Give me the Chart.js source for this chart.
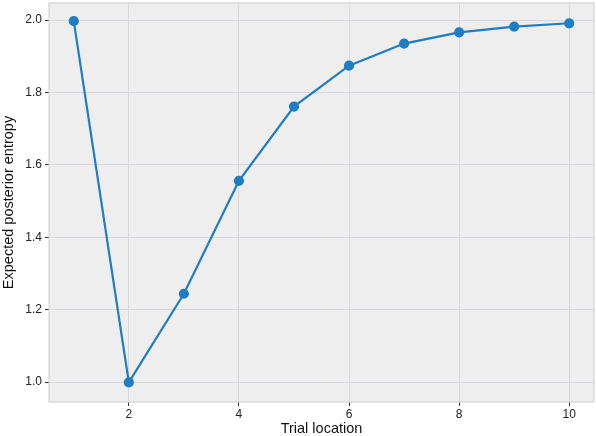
<!DOCTYPE html>
<html>
<head>
<meta charset="utf-8">
<script src="https://cdn.jsdelivr.net/npm/chart.js@4"></script>
<style>
html,body{margin:0;padding:0;background:#ffffff;}
#wrap{width:596px;height:436px;position:relative;}
</style>
</head>
<body>
<div id="wrap"><canvas id="c"></canvas></div>
<script>
const trialLocations = [1, 2, 3, 4, 5, 6, 7, 8, 9, 10];
const expectedEntropy = [1.997, 0.999, 1.244, 1.556, 1.761, 1.874, 1.935, 1.966, 1.982, 1.991];
const xTicks = [2, 4, 6, 8, 10];
const yTicks = [1.0, 1.2, 1.4, 1.6, 1.8, 2.0];

const bgPlugin = {
  id: 'bg',
  beforeDraw(chart) {
    const a = chart.chartArea, ctx = chart.ctx;
    ctx.save();
    ctx.fillStyle = '#eeeeee';
    ctx.fillRect(a.left, a.top, a.right - a.left, a.bottom - a.top);
    ctx.restore();
  },
  afterDraw(chart) {
    const a = chart.chartArea, ctx = chart.ctx;
    ctx.save();
    ctx.strokeStyle = '#d2d2d2';
    ctx.lineWidth = 1.2;
    ctx.strokeRect(a.left, a.top, a.right - a.left, a.bottom - a.top);
    ctx.restore();
  }
};

new Chart(document.getElementById('c'), {
  type: 'line',
  data: {
    datasets: [{
      data: trialLocations.map((x, i) => ({x: x, y: expectedEntropy[i]})),
      borderColor: '#1f7dc1',
      backgroundColor: '#1f7dc1',
      borderWidth: 2.2,
      pointRadius: 4,
      pointHoverRadius: 4,
      tension: 0,
      clip: false
    }]
  },
  options: {
    responsive: true,
    maintainAspectRatio: false,
    animation: false,
    layout: {autoPadding: false, padding: {top: 3, right: 2, left: 0, bottom: 0}},
    plugins: {legend: {display: false}, tooltip: {enabled: false}},
    scales: {
      x: {
        type: 'linear',
        min: 0.55,
        max: 10.45,
        afterBuildTicks(scale) { scale.ticks = xTicks.map(v => ({value: v})); },
        afterFit(scale) { scale.height = 34; scale.paddingLeft = 0; scale.paddingRight = 0; },
        grid: {color: '#d5d8de', lineWidth: 1, tickLength: 4, tickColor: '#333333', drawOnChartArea: true},
        border: {display: false},
        ticks: {color: '#222222', font: {family: 'Liberation Sans', size: 12}, padding: 1, maxRotation: 0,
          callback: v => String(v)},
        title: {display: true, text: 'Trial location', color: '#111111',
          font: {family: 'Liberation Sans', size: 14.5}, padding: {top: 0, bottom: -2}}
      },
      y: {
        type: 'linear',
        min: 0.945,
        max: 2.047,
        afterBuildTicks(scale) { scale.ticks = yTicks.map(v => ({value: v})); },
        afterFit(scale) { scale.width = 49; scale.paddingTop = 0; scale.paddingBottom = 0; },
        grid: {color: '#d5d8de', lineWidth: 1, tickLength: 4, tickColor: '#333333'},
        border: {display: false},
        ticks: {color: '#222222', font: {family: 'Liberation Sans', size: 12}, padding: 3,
          callback: v => Number(v).toFixed(1)},
        title: {display: true, text: 'Expected posterior entropy', color: '#111111',
          font: {family: 'Liberation Sans', size: 14.5}, padding: {top: 0, bottom: 0}}
      }
    }
  },
  plugins: [bgPlugin]
});
</script>
</body>
</html>
